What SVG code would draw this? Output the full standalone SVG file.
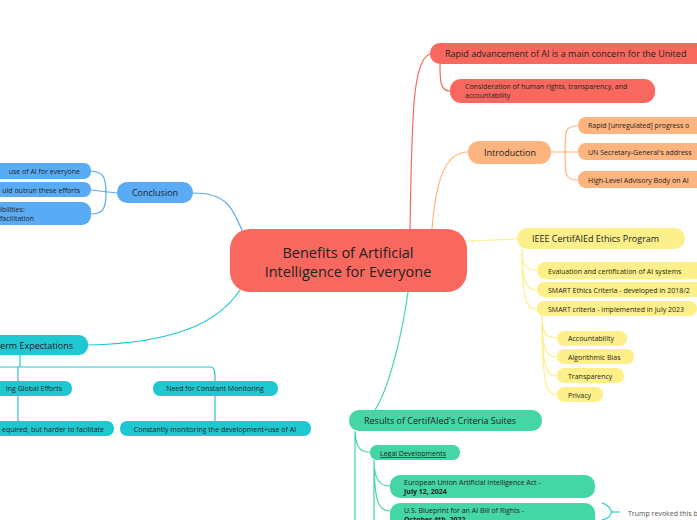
<svg xmlns="http://www.w3.org/2000/svg" width="697" height="520" viewBox="0 0 697 520">
<style>
text{font-family:"Open Sans","Liberation Sans",sans-serif;fill:#222}
.s{font-size:7px}.m{font-size:8.5px}
.c{fill:none;stroke-width:1.2}
</style>
<rect width="697" height="520" fill="#fff"/>
<g id="connectors">
<path class="c" stroke="#f8685e" d="M410 229 C412 120 412 60 430 54"/>
<path class="c" stroke="#f8685e" d="M440 64 C440 80 440 91 450 91"/>
<path class="c" stroke="#fdb47f" d="M432 229 C436 180 445 152 468 152"/>
<path class="c" stroke="#fdb47f" d="M551 152 L578 152 M565 152 C565 130 565 126 578 126 M565 152 C565 175 565 180 578 180"/>
<path class="c" stroke="#fdf08a" d="M467 241 L517 239"/>
<path class="c" stroke="#fdf08a" d="M522 249 C522 268 527 270 537 270 M522 249 C522 285 527 290 537 290 M522 249 C522 303 527 309 537 309"/>
<path class="c" stroke="#fdf08a" d="M542 316 C542 335 547 338 557 338 M542 316 C542 352 547 357 557 357 M542 316 C542 370 547 376 557 376 M542 316 C542 388 547 395 557 395"/>
<path class="c" stroke="#45d6a6" d="M408 292 C400 350 385 395 375 410"/>
<path class="c" stroke="#45d6a6" d="M355 431 L355 520 M355 431 C356 448 360 452 370 452"/>
<path class="c" stroke="#45d6a6" d="M374 460 C374 480 380 486 390 486 M374 460 L374 520 M374 460 C374 505 380 511 390 511"/>
<path class="c" stroke="#1fc8d0" d="M602 503 C610 505 610 510 612 512 L620 512 M612 512 C610 515 610 518 602 520"/>
<path class="c" stroke="#5aabf5" d="M243 233 C232 205 225 193 193 193"/>
<path class="c" stroke="#5aabf5" d="M117 193 L91 190 M106 193 C106 175 102 172 91 171 M106 193 C106 210 102 214 91 214"/>
<path class="c" stroke="#1fc8d0" d="M240 290 C220 320 180 343 88 345"/>
<path class="c" stroke="#1fc8d0" d="M20 355 L20 367 M0 367 L210 367 C215 367 215 372 215 381 M18 367 L18 421 M215 396 L215 421"/>
</g>
<g id="center"><rect x="230" y="229" width="237" height="63" rx="20" fill="#f8685e"/>
<text x="348" y="258" font-size="14.5" text-anchor="middle">Benefits of Artificial</text>
<text x="348" y="277" font-size="14.5" text-anchor="middle">Intelligence for Everyone</text></g>
<g id="rapid"><rect x="430" y="43" width="290" height="21" rx="10" fill="#f8685e"/>
<text x="445" y="57" font-size="9">Rapid advancement of AI is a main concern for the United</text></g>
<g id="consideration"><rect x="450" y="79" width="205" height="24" rx="11" fill="#f8685e"/>
<text x="465" y="89" class="s">Consideration of human rights, transparency, and</text>
<text x="465" y="98" class="s">accountability</text></g>
<g id="intro"><rect x="468" y="141" width="83" height="23" rx="11" fill="#fdb47f"/>
<text x="510" y="156" font-size="9" text-anchor="middle">Introduction</text></g>
<g id="i1"><rect x="578" y="117" width="130" height="17" rx="8" fill="#fdb47f"/><text x="588" y="128" class="s">Rapid [unregulated] progress o</text></g>
<g id="i2"><rect x="578" y="143" width="130" height="17" rx="8" fill="#fdb47f"/><text x="588" y="155" class="s">UN Secretary-General's address</text></g>
<g id="i3"><rect x="578" y="171" width="130" height="17" rx="8" fill="#fdb47f"/><text x="588" y="183" class="s">High-Level Advisory Body on AI</text></g>
<g id="ieee"><rect x="517" y="228" width="168" height="21" rx="10" fill="#fdf08a"/>
<text x="532" y="242" font-size="9">IEEE CertifAIEd Ethics Program</text></g>
<g id="y1"><rect x="537" y="262" width="170" height="17" rx="8" fill="#fdf08a"/><text x="548" y="274" class="s">Evaluation and certification of AI systems</text></g>
<g id="y2"><rect x="537" y="282" width="170" height="15" rx="7" fill="#fdf08a"/><text x="548" y="293" class="s">SMART Ethics Criteria - developed in 2018/2</text></g>
<g id="y3"><rect x="537" y="301" width="160" height="15" rx="7" fill="#fdf08a"/><text x="548" y="312" class="s">SMART criteria - implemented in July 2023</text></g>
<g id="y4"><rect x="557" y="331" width="70" height="15" rx="7" fill="#fdf08a"/><text x="568" y="341" class="s">Accountability</text></g>
<g id="y5"><rect x="557" y="349" width="77" height="15" rx="7" fill="#fdf08a"/><text x="568" y="360" class="s">Algorithmic Bias</text></g>
<g id="y6"><rect x="557" y="368" width="67" height="15" rx="7" fill="#fdf08a"/><text x="568" y="379" class="s">Transparency</text></g>
<g id="y7"><rect x="557" y="387" width="46" height="15" rx="7" fill="#fdf08a"/><text x="568" y="398" class="s">Privacy</text></g>
<g id="results"><rect x="349" y="410" width="193" height="21" rx="10" fill="#45d6a6"/>
<text x="364" y="424" font-size="9">Results of CertifAIed's Criteria Suites</text></g>
<g id="legal"><rect x="370" y="445" width="90" height="15" rx="7" fill="#45d6a6"/>
<text x="380" y="456" class="s" text-decoration="underline">Legal Developments</text></g>
<g id="eu"><rect x="390" y="475" width="205" height="23" rx="10" fill="#45d6a6"/>
<text x="404" y="485" class="s">European Union Artificial Intelligence Act -</text>
<text x="404" y="494" class="s" font-weight="bold">July 12, 2024</text></g>
<g id="us"><rect x="390" y="503" width="205" height="25" rx="10" fill="#45d6a6"/>
<text x="404" y="513" class="s">U.S. Blueprint for an AI Bill of Rights -</text>
<text x="404" y="522" class="s" font-weight="bold">October 4th, 2022</text></g>
<g id="trump"><text x="628" y="516" class="s" fill="#555" style="fill:#555">Trump revoked this b</text></g>
<g id="conclusion"><rect x="117" y="182" width="76" height="21" rx="10" fill="#5aabf5"/>
<text x="155" y="196" font-size="9" text-anchor="middle">Conclusion</text></g>
<g id="b1"><rect x="-20" y="163" width="111" height="16" rx="7" fill="#5aabf5"/><text x="80" y="174" class="s" text-anchor="end">use of AI for everyone</text></g>
<g id="b2"><rect x="-20" y="182" width="111" height="15" rx="7" fill="#5aabf5"/><text x="80" y="193" class="s" text-anchor="end">uld outrun these efforts</text></g>
<g id="b3"><rect x="-20" y="202" width="111" height="23" rx="9" fill="#5aabf5"/><text x="0" y="212" class="s">ibilities:</text><text x="0" y="221" class="s">facilitation</text></g>
<g id="expect"><rect x="-20" y="335" width="108" height="20" rx="9" fill="#1fc8d0"/>
<text x="73" y="349" font-size="9" text-anchor="end">erm Expectations</text></g>
<g id="t1"><rect x="-20" y="381" width="92" height="15" rx="7" fill="#1fc8d0"/><text x="62" y="391" class="s" text-anchor="end">ing Global Efforts</text></g>
<g id="t2"><rect x="153" y="381" width="125" height="15" rx="7" fill="#1fc8d0"/><text x="215" y="391" class="s" text-anchor="middle">Need for Constant Monitoring</text></g>
<g id="t3"><rect x="-20" y="421" width="134" height="15" rx="7" fill="#1fc8d0"/><text x="104" y="432" class="s" text-anchor="end">equired, but harder to facilitate</text></g>
<g id="t4"><rect x="120" y="421" width="191" height="15" rx="7" fill="#1fc8d0"/><text x="215" y="432" class="s" text-anchor="middle">Constantly monitoring the development+use of AI</text></g>
</svg>
